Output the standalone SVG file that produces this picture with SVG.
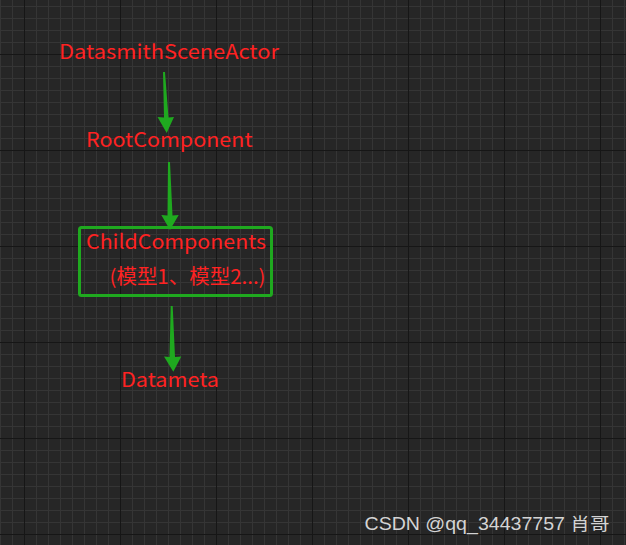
<svg xmlns="http://www.w3.org/2000/svg" width="626" height="545" viewBox="0 0 626 545">
<defs>
<pattern id="minor" patternUnits="userSpaceOnUse" x="0" y="6" width="12" height="12">
<rect x="0" y="0" width="1" height="12" fill="#353535"/>
<rect x="0" y="0" width="12" height="1" fill="#353535"/>
</pattern>
<pattern id="major" patternUnits="userSpaceOnUse" x="24" y="54" width="96" height="96">
<rect x="0" y="0" width="1" height="96" fill="#161616"/>
<rect x="0" y="0" width="96" height="1" fill="#161616"/>
</pattern>
<style>
.lbl{font-family:"Noto Sans CJK SC","Microsoft YaHei",sans-serif;font-size:20px;fill:#ff2222;}
.arrow{fill:#1fa91f;}
.box{fill:none;stroke:#1fa91f;stroke-width:3;}
.wm{font-family:"Liberation Sans","Noto Sans CJK SC",sans-serif;font-size:17.5px;fill:#d4d4d4;}
</style>
</defs>
<rect width="626" height="545" fill="#262626"/>
<rect width="626" height="545" fill="url(#minor)"/>
<rect width="626" height="545" fill="url(#major)"/>
<g id="connectors">
<polygon class="arrow" points="163,72 165,72 168.5,117.5 174,117 166.7,133 157.5,117 164,117.5"/>
<polygon class="arrow" points="168,162 170,162 172.5,215.5 178.7,215 170,230 161.3,215 167.5,215.5"/>
<polygon class="arrow" points="170.7,306 172.7,306 175,357 181.3,356.5 173.3,371.7 164,356.5 169.5,357"/>
</g>
<g id="node-datasmith">
<text class="lbl" x="59" y="58.5" textLength="220" lengthAdjust="spacingAndGlyphs">DatasmithSceneActor</text>
</g>
<g id="node-root">
<text class="lbl" x="86" y="146.7" textLength="166.5" lengthAdjust="spacingAndGlyphs">RootComponent</text>
</g>
<g id="node-child">
<rect class="box" x="79.5" y="227.5" width="192" height="68" rx="2"/>
<text class="lbl" x="86" y="248.7" textLength="180" lengthAdjust="spacingAndGlyphs">ChildComponents</text>
<text class="lbl" x="109.5" y="284" textLength="156" lengthAdjust="spacingAndGlyphs">(模型1、模型2...)</text>
</g>
<g id="node-datameta">
<text class="lbl" x="121" y="387" textLength="98" lengthAdjust="spacingAndGlyphs">Datameta</text>
</g>
<text class="wm" x="364.5" y="530" textLength="245" lengthAdjust="spacingAndGlyphs">CSDN @qq_34437757 肖哥</text>
</svg>
